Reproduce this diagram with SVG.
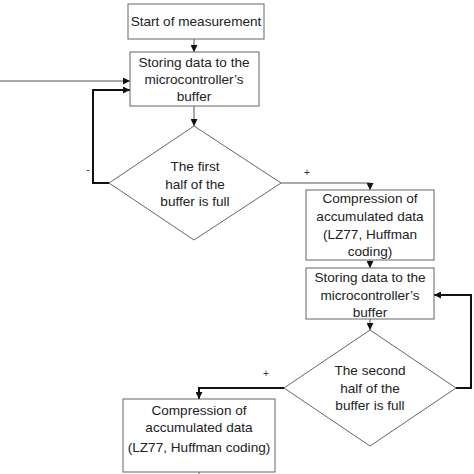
<svg xmlns="http://www.w3.org/2000/svg" width="474" height="474" viewBox="0 0 474 474">
<style>
.box{fill:#fff;stroke:#666;stroke-width:1}
.t{font-family:"Liberation Sans",Arial,sans-serif;font-size:13.6px;fill:#222;text-anchor:middle}
.thin{fill:none;stroke:#555;stroke-width:1}
.thick{fill:none;stroke:#111;stroke-width:2}
.lbl{font-family:"Liberation Sans",Arial,sans-serif;font-size:10px;fill:#333;text-anchor:middle}
</style>
<defs>
<marker id="ah" viewBox="0 0 10 10" refX="10" refY="5" markerWidth="7" markerHeight="7" markerUnits="userSpaceOnUse" orient="auto">
<path d="M0,0 L10,5 L0,10 z" fill="#111"/>
</marker>
</defs>
<rect width="474" height="474" fill="#fff"/>
<g id="connectors">
<line class="thin" x1="194" y1="39" x2="194" y2="52" marker-end="url(#ah)"/>
<line class="thin" x1="0" y1="81" x2="130" y2="81" marker-end="url(#ah)"/>
<polyline class="thick" points="109,183 93,183 93,90 130,90" marker-end="url(#ah)"/>
<line class="thin" x1="194" y1="106" x2="194" y2="126" marker-end="url(#ah)"/>
<polyline class="thin" points="281,183 370,183 370,190" marker-end="url(#ah)"/>
<line class="thin" x1="370" y1="260" x2="370" y2="268" marker-end="url(#ah)"/>
<line class="thin" x1="370" y1="319" x2="370" y2="330" marker-end="url(#ah)"/>
<polyline class="thick" points="456,388 471,388 471,295 434,295" marker-end="url(#ah)"/>
<polyline class="thick" points="284,388 199,388 199,399" marker-end="url(#ah)"/>
<line class="thin" x1="199" y1="472" x2="199" y2="474"/>
<text class="lbl" x="88" y="173">-</text>
<text class="lbl" x="307" y="176">+</text>
<text class="lbl" x="266" y="377">+</text>
</g>
<g id="start">
<rect class="box" x="128" y="4" width="136" height="35"/>
<text class="t" x="196" y="26">Start of measurement</text>
</g>
<g id="store1">
<rect class="box" x="130" y="52" width="129" height="54"/>
<text class="t" x="194" y="67">Storing data to the</text>
<text class="t" x="194" y="84">microcontroller’s</text>
<text class="t" x="194" y="101">buffer</text>
</g>
<g id="decision1">
<polygon class="box" points="194,126 281,183 194,240 109,183"/>
<text class="t" x="195" y="171">The first</text>
<text class="t" x="195" y="189">half of the</text>
<text class="t" x="195" y="206">buffer is full</text>
</g>
<g id="compress1">
<rect class="box" x="306" y="190" width="128" height="70"/>
<text class="t" x="370" y="203">Compression of</text>
<text class="t" x="370" y="221">accumulated data</text>
<text class="t" x="370" y="239">(LZ77, Huffman</text>
<text class="t" x="370" y="256">coding)</text>
</g>
<g id="store2">
<rect class="box" x="306" y="268" width="128" height="51"/>
<text class="t" x="370" y="282">Storing data to the</text>
<text class="t" x="370" y="300">microcontroller’s</text>
<text class="t" x="370" y="317">buffer</text>
</g>
<g id="decision2">
<polygon class="box" points="370,330 456,388 370,446 284,388"/>
<text class="t" x="370" y="375">The second</text>
<text class="t" x="370" y="393">half of the</text>
<text class="t" x="370" y="410">buffer is full</text>
</g>
<g id="compress2">
<rect class="box" x="123" y="399" width="152" height="73"/>
<text class="t" x="199" y="415">Compression of</text>
<text class="t" x="199" y="432">accumulated data</text>
<text class="t" x="199" y="452">(LZ77, Huffman coding)</text>
</g>
</svg>
